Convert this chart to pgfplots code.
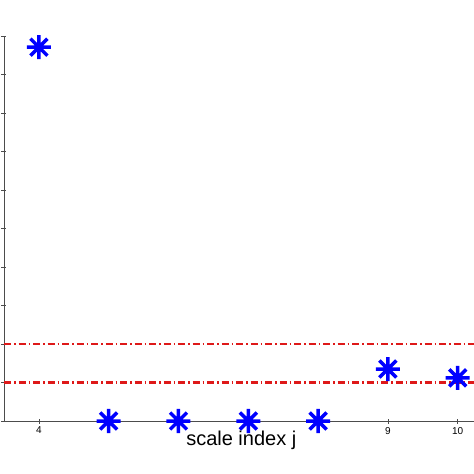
\documentclass[border=0pt]{standalone}
\usepackage{pgfplots}
\pgfplotsset{compat=1.18}
\usepackage{fontspec}
\setmainfont{Liberation Sans}
\definecolor{dashred}{rgb}{0.87,0.1,0.1}
\pgfdeclareplotmark{star8}{%
  \pgfpathmoveto{\pgfqpoint{0pt}{\pgfplotmarksize}}\pgfpathlineto{\pgfqpoint{0pt}{-\pgfplotmarksize}}%
  \pgfpathmoveto{\pgfqpoint{\pgfplotmarksize}{0pt}}\pgfpathlineto{\pgfqpoint{-\pgfplotmarksize}{0pt}}%
  \pgfpathmoveto{\pgfqpoint{0.7071\pgfplotmarksize}{0.7071\pgfplotmarksize}}\pgfpathlineto{\pgfqpoint{-0.7071\pgfplotmarksize}{-0.7071\pgfplotmarksize}}%
  \pgfpathmoveto{\pgfqpoint{0.7071\pgfplotmarksize}{-0.7071\pgfplotmarksize}}\pgfpathlineto{\pgfqpoint{-0.7071\pgfplotmarksize}{0.7071\pgfplotmarksize}}%
  \pgfusepathqstroke}
\begin{document}
\begin{tikzpicture}
\useasboundingbox (0,0) rectangle (474pt,474pt);
\begin{axis}[
  at={(4pt,53pt)},anchor=south west,
  scale only axis,width=474.6pt,height=385pt,
  xmin=3.5,xmax=10.3,ymin=0,ymax=10,
  axis x line=bottom,axis y line=left,axis line style={-,black!70,line width=0.8pt},
  xtick={4,5,6,7,8,9,10},xticklabels={4,,,,,9,10},
  ytick={0,1,...,10},yticklabels={},
  major tick length=5pt,tick style={black!70,line width=0.6pt},
  ticklabel style={font=\fontsize{10}{11}\selectfont},
  xlabel={scale index j},
  xlabel style={font=\fontsize{20}{22}\selectfont,yshift=10pt},
  clip=false]
\addplot[dashred,line width=2.2pt,dash pattern=on 7pt off 3pt on 1.5pt off 3pt] coordinates {(3.5,2) (10.3,2)};
\addplot[dashred,line width=2.2pt,dash pattern=on 7pt off 3pt on 1.5pt off 3pt] coordinates {(3.5,1) (10.3,1)};
\addplot[only marks,blue,mark=star8,mark size=12pt,line width=3.5pt] coordinates {
(4,9.71) (5,0) (6,0) (7,0) (8,0) (9,1.35) (10,1.12)};
\end{axis}
\end{tikzpicture}
\end{document}
